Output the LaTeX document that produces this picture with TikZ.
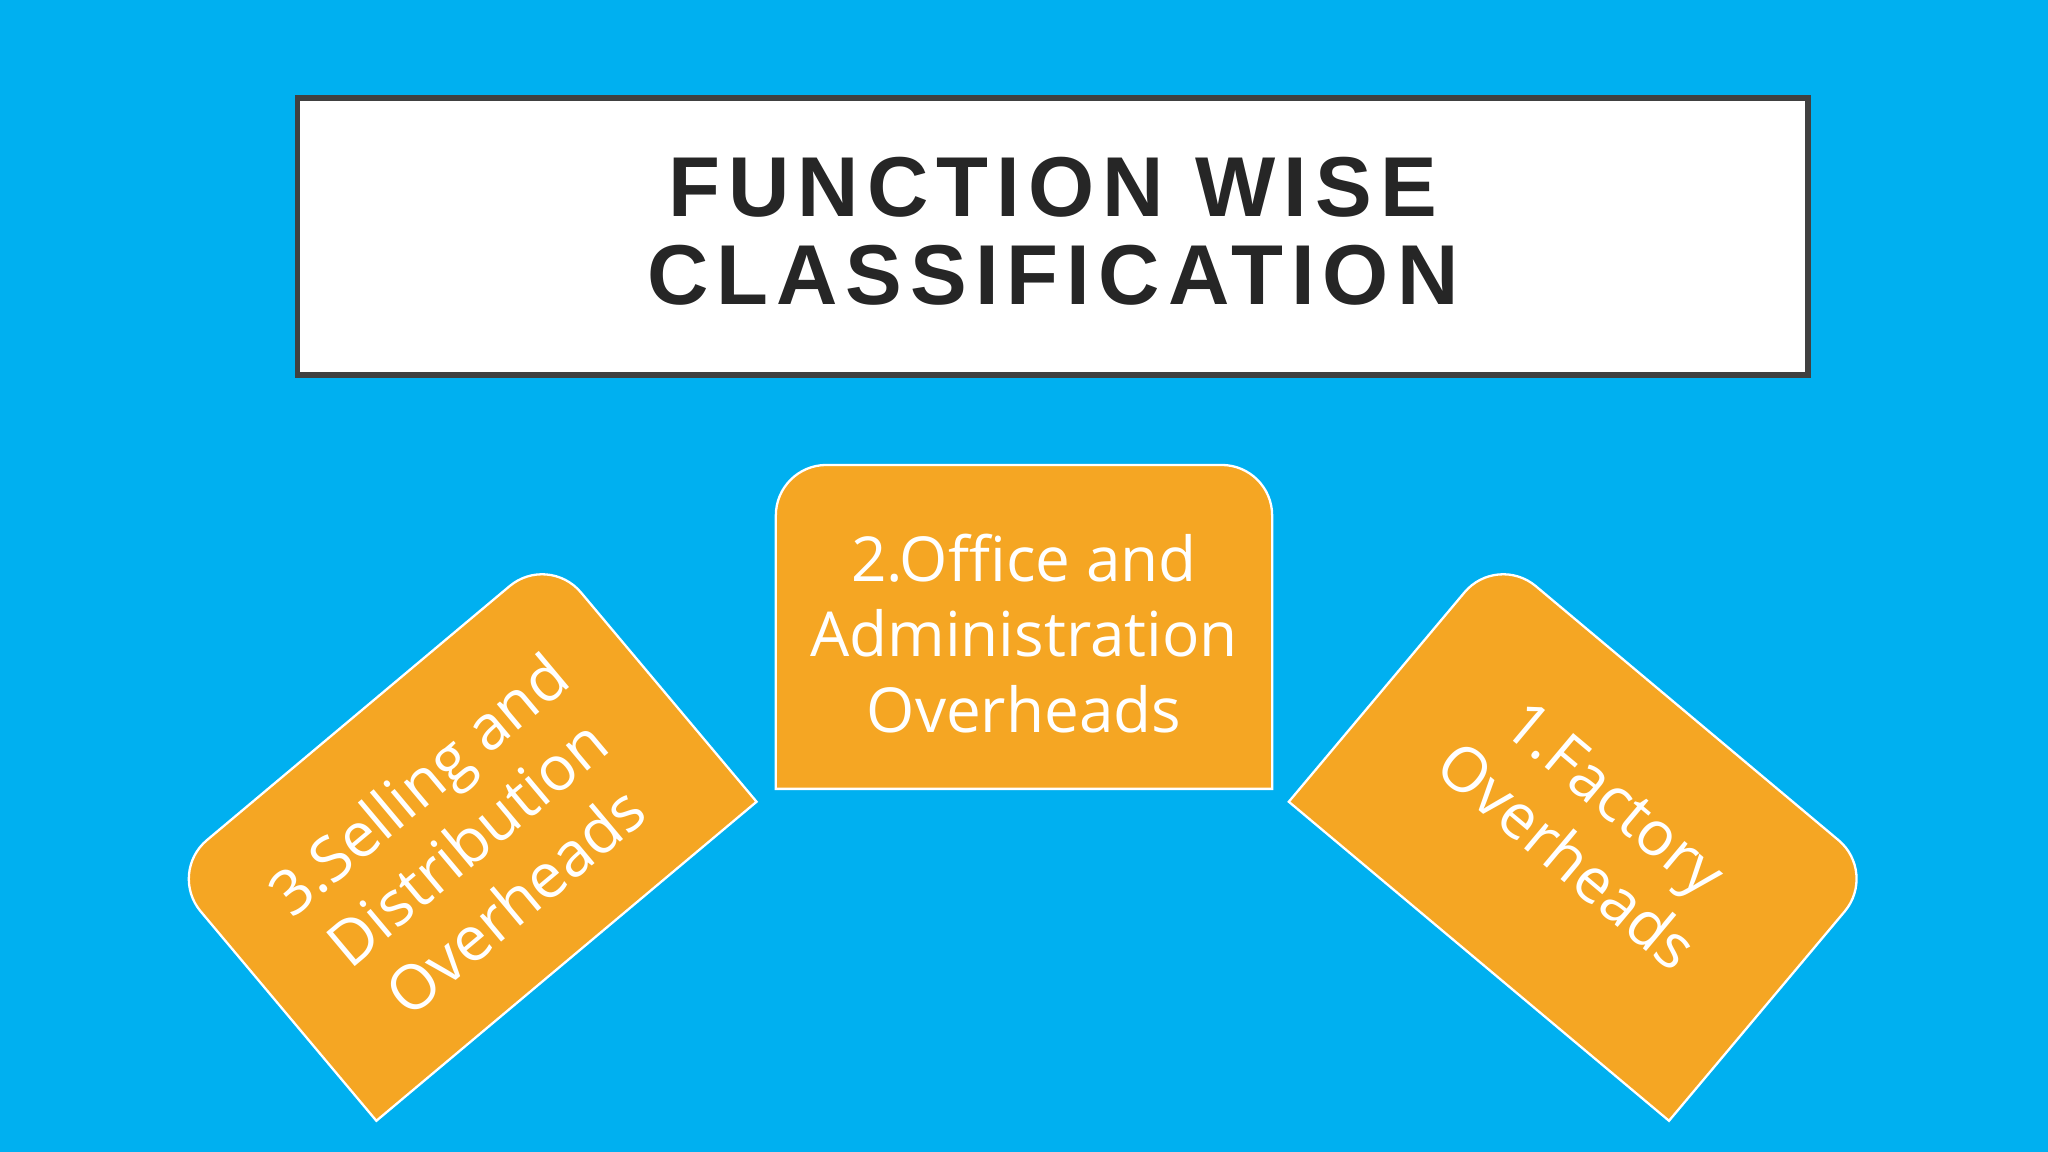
\documentclass[tikz,border=0pt]{standalone}
\usepackage{fontspec}
\setmainfont{Open Sans}
\newfontfamily\titlefont[LetterSpace=9.5]{Liberation Sans}
\definecolor{bgblue}{HTML}{00B0F0}
\definecolor{boxorange}{HTML}{F5A623}
\definecolor{titletext}{HTML}{262626}
\definecolor{titleborder}{HTML}{404040}
\begin{document}
\begin{tikzpicture}[x=0.01cm,y=0.01cm,
  boxshape/.style={fill=boxorange,draw=white,line width=0.5pt},
  boxtext/.style={text=white,align=center,font=\fontsize{13.5}{16.5}\selectfont}]
\fill[bgblue] (0,0) rectangle (1568,882);
\useasboundingbox (0,0) rectangle (1568,882);
\node[draw=titleborder,line width=1.2pt,fill=white,inner sep=0,minimum width=11.56cm,minimum height=2.12cm] (titlebox) at (806,701) {};
\node[text=titletext,align=center,font=\titlefont\bfseries\fontsize{18.5}{19}\selectfont] (title) at (806,705) {FUNCTION WISE\\CLASSIFICATION};
% middle box
\begin{scope}[shift={(784,402)}]
\draw[boxshape] (-190,-124) [rounded corners=11pt]-- (-190,124) -- (190,124) [sharp corners]-- (190,-124) -- cycle;
\node[boxtext] (office) at (0,-5) {2.Office and\\Administration\\Overheads};
\end{scope}
% left box
\begin{scope}[shift={(354,241)},rotate=40]
\draw[boxshape] (-190,-124) [rounded corners=11pt]-- (-190,124) -- (190,124) [sharp corners]-- (190,-124) -- cycle;
\node[boxtext,rotate=40] (selling) at (0,-5) {3.Selling and\\Distribution\\Overheads};
\end{scope}
% right box
\begin{scope}[shift={(1212,241)},rotate=-40]
\draw[boxshape] (-190,-124) [rounded corners=11pt]-- (-190,124) -- (190,124) [sharp corners]-- (190,-124) -- cycle;
\node[boxtext,rotate=-40] (factory) at (0,10) {1.Factory\\Overheads};
\end{scope}
\end{tikzpicture}
\end{document}
